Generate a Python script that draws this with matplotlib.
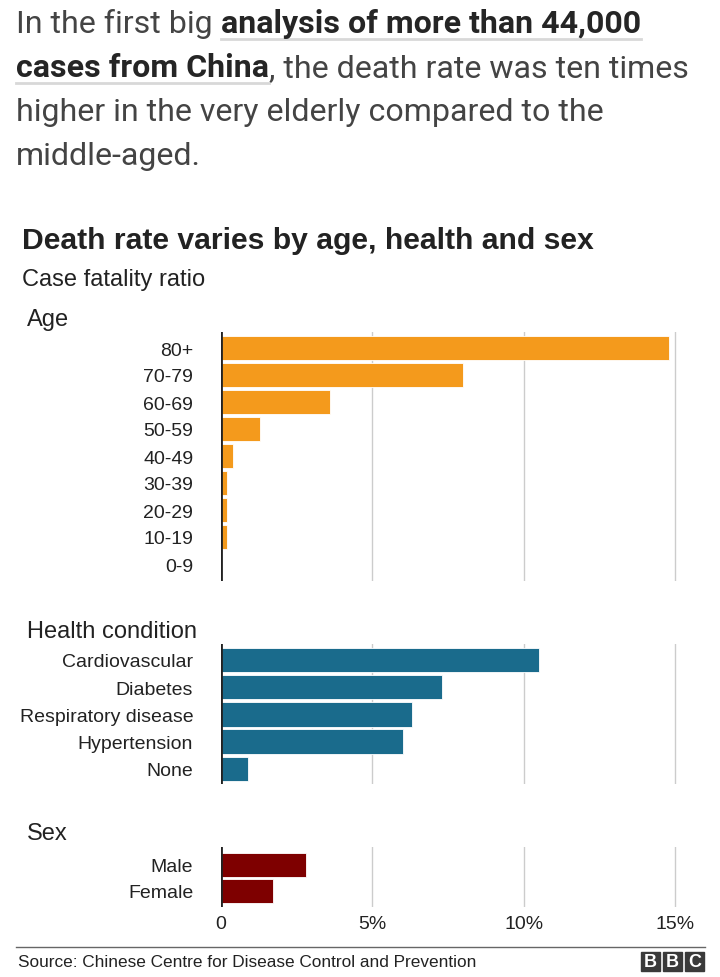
import matplotlib
matplotlib.use("Agg")
import matplotlib.pyplot as plt
from matplotlib.patches import Rectangle
from matplotlib.lines import Line2D

W, H = 720, 978

# data
age_labels = ["80+", "70-79", "60-69", "50-59", "40-49", "30-39", "20-29", "10-19", "0-9"]
age_values = [14.8, 8.0, 3.6, 1.3, 0.4, 0.2, 0.2, 0.2, 0.0]
health_labels = ["Cardiovascular", "Diabetes", "Respiratory disease", "Hypertension", "None"]
health_values = [10.5, 7.3, 6.3, 6.0, 0.9]
sex_labels = ["Male", "Female"]
sex_values = [2.8, 1.7]
x_ticks = [0, 5, 10, 15]
x_tick_labels = ["0", "5%", "10%", "15%"]

ORANGE = "#f49a1c"
TEAL = "#1a6b8c"
RED = "#7e0000"
INK = "#222222"
chart_font = "Liberation Sans"
para_font = "Roboto"

fig = plt.figure(figsize=(7.2, 9.78), dpi=100)
fig.patch.set_facecolor("white")
renderer = fig.canvas.get_renderer()


def fx(x):
    return x / W


def fy(y):
    return 1 - y / H


def px_axes(left, top, width, height):
    return fig.add_axes([left / W, 1 - (top + height) / H, width / W, height / H])


# intro paragraph, mixed regular / bold with underline
para_lines = [
    [("In the first big", False, " "), ("analysis of more than 44,000", True, "")],
    [("cases from China", True, ""), (", the death rate was ten times", False, "")],
    [("higher in the very elderly compared to the", False, "")],
    [("middle-aged.", False, "")],
]
para_baselines = [33, 77, 121, 165]


def text_width(s, size, bold):
    t = fig.text(0, 0, s, fontsize=size, family=para_font,
                 fontweight="bold" if bold else "normal")
    w = t.get_window_extent(renderer=renderer).width
    t.remove()
    return w


def line_width(pieces, size):
    w = 0
    for s, bold, sep in pieces:
        w += text_width(s, size, bold)
        if sep:
            w += size * 100 / 72 * 0.248
    return w


base = 20
para_size = base * 621 / line_width(para_lines[0], base)

for pieces, yb in zip(para_lines, para_baselines):
    x = 16
    for s, bold, sep in pieces:
        t = fig.text(fx(x), fy(yb), s, fontsize=para_size, family=para_font,
                     fontweight="bold" if bold else "normal",
                     color="#252525" if bold else "#444444",
                     ha="left", va="baseline")
        w = t.get_window_extent(renderer=renderer).width
        if bold:
            fig.add_artist(Line2D([fx(x), fx(x + w)], [fy(yb + 7), fy(yb + 7)],
                                  color="#d8d8d8", lw=2, transform=fig.transFigure))
        x += w
        if sep:
            x += para_size * 100 / 72 * 0.248

# chart titles
fig.text(fx(22), fy(249), "Death rate varies by age, health and sex", fontsize=21.7,
         fontweight="bold", family=chart_font, color=INK, va="baseline")
fig.text(fx(22), fy(286), "Case fatality ratio", fontsize=17, family=chart_font,
         color=INK, va="baseline")

section_titles = [("Age", 326), ("Health condition", 638), ("Sex", 840)]
for name, yb in section_titles:
    fig.text(fx(27), fy(yb), name, fontsize=17, family=chart_font, color=INK,
             va="baseline")


def panel(top, bottom, c0, step, labels, values, color, show_x=False):
    n = len(labels)
    ax = px_axes(221, top, 456, bottom - top)
    pos = list(range(n))[::-1]
    ax.barh(pos, values, height=0.9, color=color, edgecolor="white",
            linewidth=0.6, zorder=3)
    ax.set_xlim(0, 15.05)
    ax.set_ylim(-(bottom - (c0 + (n - 1) * step)) / step, (n - 1) + (c0 - top) / step)
    for s in ax.spines.values():
        s.set_visible(False)
    ax.set_xticks(x_ticks)
    ax.grid(axis="x", color="#cccccc", lw=1, zorder=0)
    ax.axvline(0, color=INK, lw=2, zorder=4)
    ax.set_yticks(pos)
    ax.set_yticklabels(labels, fontsize=14, family=chart_font, color=INK)
    ax.tick_params(axis="y", length=0, pad=20)
    if show_x:
        ax.set_xticklabels(x_tick_labels, fontsize=14, family=chart_font, color=INK)
        ax.tick_params(axis="x", length=0, pad=6)
    else:
        ax.tick_params(axis="x", length=0, labelbottom=False)
    return ax


panel(333, 582, 349, 27, age_labels, age_values, ORANGE)
panel(645, 785, 661, 27.2, health_labels, health_values, TEAL)
panel(848, 908, 866, 26, sex_labels, sex_values, RED, show_x=True)

# footer
fig.add_artist(Line2D([fx(16), fx(705)], [fy(948), fy(948)], color="#666666", lw=1,
                      transform=fig.transFigure))
fig.text(fx(18), fy(963), "Source: Chinese Centre for Disease Control and Prevention",
         fontsize=12.4, family=chart_font, color=INK, va="center")

for i, letter in enumerate("BBC"):
    x0 = 641 + i * 22
    fig.add_artist(Rectangle((fx(x0), fy(972)), 19 / W, 19 / H, color="#3a3a3a",
                             transform=fig.transFigure))
    fig.text(fx(x0 + 9.5), fy(962.5), letter, fontsize=13, fontweight="bold",
             family=chart_font, color="white", ha="center", va="center")

fig.savefig("out.png", dpi=100)
